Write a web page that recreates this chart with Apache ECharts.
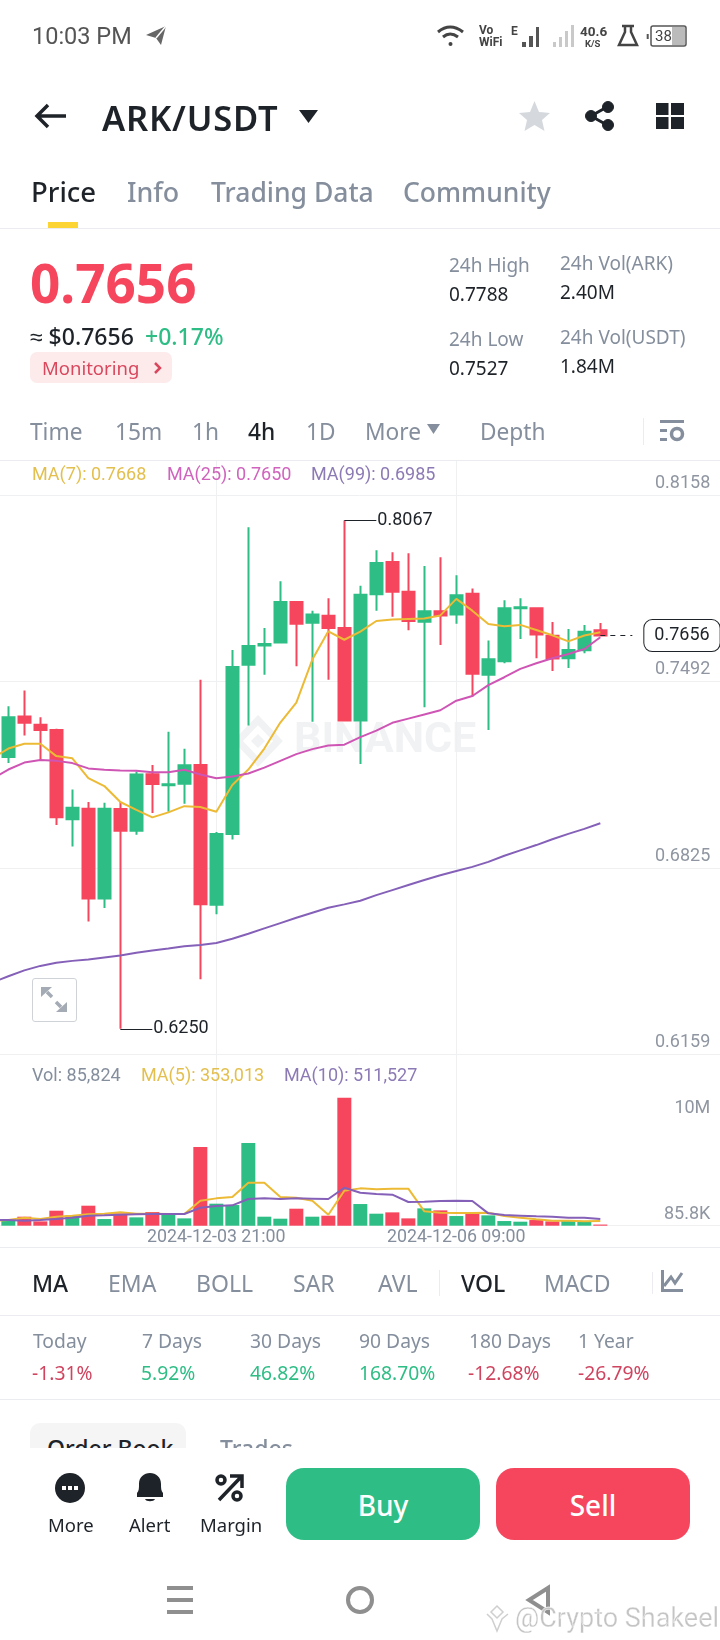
<!DOCTYPE html>
<html>
<head>
<meta charset="utf-8">
<title>ARK/USDT</title>
<script src="https://cdn.jsdelivr.net/npm/echarts@6/dist/echarts.min.js"></script>
<style>
    html, body { margin: 0; padding: 0; background: #fff; }
    #page { position: relative; width: 720px; height: 1640px; overflow: hidden; font-family: "Noto Sans", sans-serif; }
    #main { position: absolute; left: 0; top: 0; width: 720px; height: 1640px; }
    .t { position: absolute; white-space: nowrap; transform: translateY(-50%); line-height: 1; color: #848e9c; }
    .dark { color: #1e2329; }
    .r { color: #cf4560; }
    .g { color: #2ebd85; }
    .s { font-size: 19.3px; }
    .m { font-size: 22.7px; }
    .hr { position: absolute; left: 0; width: 720px; height: 1px; background: #eaecef; }
    .vr { position: absolute; width: 1px; background: #eaecef; }
    svg { position: absolute; overflow: visible; }
    .btn { position: absolute; top: 1468px; width: 194px; height: 72px; border-radius: 18px; color: #fff;
        font-size: 28px; font-weight: 500; text-align: center; line-height: 75px; }
</style>
</head>
<body>
<div id="page">
    <div id="main"></div>

    <!-- status bar -->
    <span class="t" style="left:32px;top:36px;font:23.5px Roboto;color:#555">10:03 PM</span>
    <svg style="left:146px;top:26px" width="21" height="20"><path d="M0 9 L20 0 L15 19 L10 12 Z" fill="#666"/><path d="M10 12 L20 0" stroke="#fff" stroke-width="1.5"/></svg>
    <svg style="left:437px;top:24px" width="28" height="24" fill="none" stroke="#444" stroke-width="3"><path d="M1 8 Q13 -2 26 8"/><path d="M6 13 Q13 7 21 13"/><circle cx="13.500" cy="20" r="2" fill="#444" stroke="none"/></svg>
    <span class="t" style="left:479px;top:30px;font:bold 12px Roboto;color:#444">Vo</span>
    <span class="t" style="left:479px;top:42px;font:bold 12px Roboto;color:#444">WiFi</span>
    <span class="t" style="left:511px;top:31px;font:bold 12px Roboto;color:#444">E</span>
    <svg style="left:522px;top:24px" width="52" height="23"><path d="M0 18h4v5h-4zM7 12h4v11h-4zM14 3h3v20h-3z" fill="#555"/><path d="M31 18h3v5h-3zM37 13h3v10h-3zM43 7h3v16h-3zM49 1h3v22h-3z" fill="#c9c9c9"/></svg>
    <span class="t" style="left:580px;top:31px;font:bold 13.500px Roboto;color:#444">40.6</span>
    <span class="t" style="left:585px;top:43px;font:bold 9.500px Roboto;color:#444">K/S</span>
    <svg style="left:618px;top:25px" width="20" height="22" fill="none" stroke="#444" stroke-width="2.500"><path d="M4 1h12M7 1v6L1 20h18L13 7V1"/></svg>
    <svg style="left:646px;top:25px" width="41" height="22"><rect x="0.700" y="9" width="2" height="5" fill="#555"/><rect x="5" y="1" width="35" height="20" rx="2" fill="#fff" stroke="#555" stroke-width="1.500"/><rect x="26" y="2" width="13" height="18" fill="#bbb"/></svg>
    <span class="t" style="left:655px;top:36px;font:15px Roboto;color:#444">38</span>

    <!-- header -->
    <svg style="left:35px;top:103px" width="31" height="26" fill="none" stroke="#1e2329" stroke-width="3.500"><path d="M31 13H3M13 2L2 13L13 24"/></svg>
    <span class="t dark" style="left:102px;top:118px;font-size:34.500px;font-weight:600;letter-spacing:0.800px">ARK/USDT</span>
    <svg style="left:299px;top:110px" width="19" height="13"><path d="M0 0H19L9.500 13Z" fill="#1e2329"/></svg>
    <svg style="left:519px;top:101px" width="31" height="30"><path d="M15.500 0L20 11L31 12L23 19L25.500 30L15.500 24L5.500 30L8 19L0 12L11 11Z" fill="#d5d9de"/></svg>
    <svg style="left:585px;top:101px" width="29" height="30" stroke="#1e2329" fill="#1e2329"><path d="M22 6L6 15L22 24" fill="none" stroke-width="3"/><circle cx="23" cy="6" r="5.500"/><circle cx="6" cy="15" r="5.500"/><circle cx="23" cy="24" r="5.500"/></svg>
    <svg style="left:656px;top:103px" width="28" height="26" fill="#1e2329"><rect width="12.500" height="12"/><rect x="15" width="13" height="12"/><rect y="14" width="12.500" height="12"/><rect x="15" y="14" width="13" height="12"/></svg>

    <!-- tabs -->
    <span class="t dark" style="left:31px;top:192px;font-size:27.500px;font-weight:500">Price</span>
    <span class="t" style="left:127px;top:192px;font-size:26.800px;font-weight:500">Info</span>
    <span class="t" style="left:211px;top:192px;font-size:26.500px;font-weight:500">Trading Data</span>
    <span class="t" style="left:403px;top:192px;font-size:26.500px;font-weight:500">Community</span>
    <div style="position:absolute;left:48px;top:222px;width:30px;height:6px;background:#fcd535"></div>
    <div class="hr" style="top:228px"></div>

    <!-- price block -->
    <span class="t" style="left:30px;top:282px;font-size:53px;font-weight:700;color:#f6465d">0.7656</span>
    <span class="t dark" style="left:30px;top:336px;font-size:23px;font-weight:500">≈ $0.7656</span>
    <span class="t g" style="left:145px;top:336px;font-size:23px;font-weight:500">+0.17%</span>
    <div style="position:absolute;left:30px;top:352px;width:142px;height:31px;border-radius:7px;background:#fdebec"></div>
    <span class="t" style="left:42px;top:368px;font-size:18.500px;color:#d9475d">Monitoring</span>
    <svg style="left:154px;top:362px" width="8" height="12" fill="none" stroke="#d9475d" stroke-width="2.500"><path d="M1 1L6 6L1 11"/></svg>
    <span class="t" style="left:449px;top:265px;font-size:19px">24h High</span>
    <span class="t dark" style="left:449px;top:294px;font-size:19px">0.7788</span>
    <span class="t" style="left:560px;top:263px;font-size:19px">24h Vol(ARK)</span>
    <span class="t dark" style="left:560px;top:292px;font-size:19px">2.40M</span>
    <span class="t" style="left:449px;top:339px;font-size:19px">24h Low</span>
    <span class="t dark" style="left:449px;top:368px;font-size:19px">0.7527</span>
    <span class="t" style="left:560px;top:337px;font-size:19px">24h Vol(USDT)</span>
    <span class="t dark" style="left:560px;top:366px;font-size:19px">1.84M</span>

    <!-- time frames -->
    <span class="t m" style="left:30px;top:432px">Time</span>
    <span class="t m" style="left:115px;top:432px">15m</span>
    <span class="t m" style="left:192px;top:432px">1h</span>
    <span class="t m dark" style="left:248px;top:432px;font-weight:500">4h</span>
    <span class="t m" style="left:306px;top:432px">1D</span>
    <span class="t m" style="left:365px;top:432px">More</span>
    <svg style="left:427px;top:424px" width="13" height="10"><path d="M0 0H13L6.500 10Z" fill="#848e9c"/></svg>
    <span class="t m" style="left:480px;top:432px">Depth</span>
    <div class="vr" style="left:643px;top:418px;height:27px"></div>
    <svg style="left:660px;top:420px" width="24" height="24" fill="#848e9c"><rect width="24" height="3"/><rect x="0" y="9" width="7" height="3"/><rect x="0" y="18" width="7" height="3"/><circle cx="17" cy="14" r="5.500" fill="none" stroke="#848e9c" stroke-width="3.500"/></svg>
    <div class="hr" style="top:460px"></div>

    <!-- expand button -->
    <div style="position:absolute;left:32px;top:978px;width:43px;height:42px;border:1px solid #cfd3d8;border-radius:3px;background:#fff"></div>
    <svg style="left:41px;top:987px" width="26" height="25" fill="none" stroke="#a4abb4" stroke-width="3.500"><path d="M6 5L11 10M15 15L20 20"/><path d="M0 0H11L0 10Z" fill="#a4abb4" stroke="none"/><path d="M26 25H15L26 15Z" fill="#a4abb4" stroke="none"/></svg>

    <!-- indicators -->
    <div class="hr" style="top:1247px"></div>
    <span class="t dark" style="left:32px;top:1283px;font-size:23px;font-weight:500">MA</span>
    <span class="t" style="left:108px;top:1283px;font-size:23px">EMA</span>
    <span class="t" style="left:196px;top:1283px;font-size:23px">BOLL</span>
    <span class="t" style="left:293px;top:1283px;font-size:23px">SAR</span>
    <span class="t" style="left:378px;top:1283px;font-size:23px">AVL</span>
    <div class="vr" style="left:439px;top:1270px;height:26px"></div>
    <span class="t dark" style="left:461px;top:1283px;font-size:23px;font-weight:500">VOL</span>
    <span class="t" style="left:544px;top:1283px;font-size:23px">MACD</span>
    <div class="vr" style="left:652px;top:1272px;height:22px"></div>
    <svg style="left:661px;top:1270px" width="22" height="22" fill="none" stroke="#848e9c" stroke-width="3"><path d="M1.500 0V20.500H22"/><path d="M3 16L10 7L14 13L21 3"/></svg>
    <div class="hr" style="top:1315px"></div>

    <!-- performance -->
    <span class="t s" style="left:33px;top:1341px">Today</span>
    <span class="t s" style="left:142px;top:1341px">7 Days</span>
    <span class="t s" style="left:250px;top:1341px">30 Days</span>
    <span class="t s" style="left:359px;top:1341px">90 Days</span>
    <span class="t s" style="left:469px;top:1341px">180 Days</span>
    <span class="t s" style="left:578px;top:1341px">1 Year</span>
    <span class="t s r" style="left:32px;top:1373px">-1.31%</span>
    <span class="t s g" style="left:141px;top:1373px">5.92%</span>
    <span class="t s g" style="left:250px;top:1373px">46.82%</span>
    <span class="t s g" style="left:359px;top:1373px">168.70%</span>
    <span class="t s r" style="left:468px;top:1373px">-12.68%</span>
    <span class="t s r" style="left:578px;top:1373px">-26.79%</span>
    <div class="hr" style="top:1399px"></div>

    <!-- order book tabs, cut off by the bottom bar -->
    <div style="position:absolute;left:30px;top:1423px;width:156px;height:50px;border-radius:10px;background:#f5f5f5"></div>
    <span class="t dark" style="left:47px;top:1448px;font-size:23px;font-weight:500">Order Book</span>
    <span class="t" style="left:220px;top:1448px;font-size:23px;font-weight:500">Trades</span>
    <div style="position:absolute;left:0;top:1448px;width:720px;height:192px;background:#fff"></div>

    <!-- bottom bar -->
    <svg style="left:55px;top:1473px" width="30" height="30"><circle cx="15" cy="15" r="15" fill="#1e2329"/><path d="M7 13h4v4h-4zM13 13h4v4h-4zM19 13h4v4h-4z" fill="#fff"/></svg>
    <svg style="left:136px;top:1473px" width="28" height="30" fill="#1e2329"><path d="M1 20C3 18 3 15 3 11C3 4 8 0 14 0C20 0 25 4 25 11C25 15 25 18 27 20V24H1Z"/><path d="M9 26H19C18 29 10 29 9 26Z"/></svg>
    <svg style="left:216px;top:1474px" width="28" height="28" fill="none" stroke="#1e2329" stroke-width="3.500"><path d="M3 26L25 3M14 2H26V14"/><circle cx="5" cy="6" r="4"/><circle cx="21" cy="22" r="4"/></svg>
    <span class="t dark" style="left:48px;top:1525px;font-size:18.500px">More</span>
    <span class="t dark" style="left:129px;top:1525px;font-size:18.500px">Alert</span>
    <span class="t dark" style="left:200px;top:1525px;font-size:18.500px">Margin</span>
    <div class="btn" style="left:286px;background:#2ebd85">Buy</div>
    <div class="btn" style="left:496px;background:#f6465d">Sell</div>

    <!-- nav bar -->
    <svg style="left:167px;top:1586px" width="26" height="28" fill="#8f8f8f"><rect width="26" height="4"/><rect y="12" width="26" height="4"/><rect y="24" width="26" height="4"/></svg>
    <svg style="left:346px;top:1586px" width="28" height="28" fill="none" stroke="#8f8f8f" stroke-width="4"><circle cx="14" cy="14" r="12"/></svg>
    <svg style="left:526px;top:1586px" width="24" height="28" fill="none" stroke="#8f8f8f" stroke-width="4"><path d="M22 2V26L3 14Z"/></svg>
    <svg style="left:484px;top:1604px" width="27" height="28" fill="none" stroke="#cfcfcf" stroke-width="1.500"><path d="M13 2L19 8L13 14L7 8ZM3 10L8 15L13 27L18 15L24 10"/></svg>
    <span class="t" style="left:515px;top:1618px;font:27px Roboto;color:#c4c4c4;-webkit-text-stroke:0.300px #fff;text-shadow:0 0 1px #fff">@Crypto Shakeel</span>
</div>
<script>
var timeLabels = [
    '2024-12-01 13:00', '2024-12-01 17:00', '2024-12-01 21:00',
    '2024-12-02 01:00', '2024-12-02 05:00', '2024-12-02 09:00', '2024-12-02 13:00', '2024-12-02 17:00', '2024-12-02 21:00',
    '2024-12-03 01:00', '2024-12-03 05:00', '2024-12-03 09:00', '2024-12-03 13:00', '2024-12-03 17:00', '2024-12-03 21:00',
    '2024-12-04 01:00', '2024-12-04 05:00', '2024-12-04 09:00', '2024-12-04 13:00', '2024-12-04 17:00', '2024-12-04 21:00',
    '2024-12-05 01:00', '2024-12-05 05:00', '2024-12-05 09:00', '2024-12-05 13:00', '2024-12-05 17:00', '2024-12-05 21:00',
    '2024-12-06 01:00', '2024-12-06 05:00', '2024-12-06 09:00', '2024-12-06 13:00', '2024-12-06 17:00', '2024-12-06 21:00',
    '2024-12-07 01:00', '2024-12-07 05:00', '2024-12-07 09:00', '2024-12-07 13:00', '2024-12-07 17:00', '2024-12-07 21:00',
    '2024-12-08 01:00', '2024-12-08 05:00', '2024-12-08 09:00', '2024-12-08 13:00', '2024-12-08 17:00', '2024-12-08 21:00',
    '2024-12-09 01:00'
];
var shownTimes = ['2024-12-03 21:00', '2024-12-06 09:00'];

// first candle sits just left of the screen, it only carries the lines to the edge
var opens = [0.7180, 0.7222, 0.7367, 0.7337, 0.7318, 0.6999, 0.7037, 0.6716, 0.7036, 0.6958, 0.7160, 0.7121, 0.7126, 0.7193, 0.6694, 0.6947, 0.7552, 0.7620, 0.7631, 0.7776, 0.7702, 0.7727, 0.7683, 0.7352, 0.7804, 0.7919, 0.7813, 0.7705, 0.7743, 0.7731, 0.7805, 0.7516, 0.7564, 0.7754, 0.7754, 0.7655, 0.7575, 0.7603, 0.7675];
var closes = [0.7222, 0.7364, 0.7344, 0.7318, 0.7006, 0.7040, 0.6716, 0.7037, 0.6958, 0.7159, 0.7125, 0.7124, 0.7192, 0.6695, 0.6947, 0.7544, 0.7619, 0.7626, 0.7776, 0.7698, 0.7731, 0.7683, 0.7352, 0.7802, 0.7915, 0.7813, 0.7708, 0.7743, 0.7728, 0.7800, 0.7519, 0.7571, 0.7754, 0.7757, 0.7660, 0.7574, 0.7604, 0.7670, 0.7656];
var lows = [0.7150, 0.7200, 0.7299, 0.7211, 0.6979, 0.6902, 0.6634, 0.6682, 0.6250, 0.6944, 0.7022, 0.7026, 0.7055, 0.6427, 0.6660, 0.6927, 0.7334, 0.7516, 0.7631, 0.7546, 0.7348, 0.7498, 0.7352, 0.7197, 0.7745, 0.7723, 0.7675, 0.7400, 0.7622, 0.7698, 0.7437, 0.7318, 0.7557, 0.7644, 0.7575, 0.7529, 0.7540, 0.7593, 0.7655];
var highs = [0.7240, 0.7403, 0.7460, 0.7364, 0.7323, 0.7106, 0.7061, 0.7058, 0.7061, 0.7170, 0.7193, 0.7312, 0.7251, 0.7498, 0.6954, 0.7604, 0.8043, 0.7683, 0.7850, 0.7776, 0.7745, 0.7789, 0.8067, 0.7834, 0.7961, 0.7954, 0.7950, 0.7905, 0.7936, 0.7872, 0.7824, 0.7638, 0.7782, 0.7789, 0.7757, 0.7704, 0.7679, 0.7694, 0.7701];
var ma7 = [0.7217, 0.7252, 0.7269, 0.7269, 0.7225, 0.7217, 0.7146, 0.7118, 0.7061, 0.7033, 0.7006, 0.7024, 0.7046, 0.7043, 0.7026, 0.7122, 0.7177, 0.7252, 0.7345, 0.7416, 0.7570, 0.7671, 0.7641, 0.7670, 0.7708, 0.7713, 0.7715, 0.7717, 0.7728, 0.7787, 0.7745, 0.7697, 0.7689, 0.7694, 0.7676, 0.7657, 0.7635, 0.7656, 0.7668];
var ma25 = [0.7144, 0.7177, 0.7202, 0.7211, 0.7208, 0.7200, 0.7181, 0.7176, 0.7174, 0.7173, 0.7167, 0.7167, 0.7176, 0.7159, 0.7146, 0.7152, 0.7163, 0.7184, 0.7208, 0.7232, 0.7250, 0.7263, 0.7266, 0.7293, 0.7316, 0.7344, 0.7359, 0.7374, 0.7389, 0.7423, 0.7440, 0.7479, 0.7507, 0.7537, 0.7557, 0.7575, 0.7590, 0.7608, 0.7650];
var ma99 = [0.6416, 0.6438, 0.6459, 0.6475, 0.6486, 0.6493, 0.6498, 0.6505, 0.6512, 0.6522, 0.6530, 0.6537, 0.6545, 0.6550, 0.6557, 0.6572, 0.6590, 0.6609, 0.6628, 0.6647, 0.6665, 0.6683, 0.6695, 0.6708, 0.6728, 0.6746, 0.6764, 0.6782, 0.6799, 0.6814, 0.6829, 0.6847, 0.6869, 0.6888, 0.6907, 0.6928, 0.6947, 0.6965, 0.6985];
var volumes = [450000, 500000, 675000, 325000, 1125000, 775000, 1500000, 500000, 925000, 625000, 1025000, 825000, 550000, 5900000, 1650000, 1550000, 6200000, 675000, 525000, 1275000, 675000, 750000, 9600000, 1625000, 900000, 1000000, 550000, 1300000, 1150000, 725000, 925000, 775000, 350000, 300000, 425000, 325000, 350000, 350000, 85824];
var volMa5 = [375000, 425000, 600000, 500000, 675000, 750000, 850000, 900000, 1000000, 900000, 900000, 875000, 875000, 1875000, 2050000, 2150000, 3225000, 3225000, 2150000, 2100000, 1875000, 825000, 2625000, 2800000, 2725000, 2775000, 2775000, 1075000, 975000, 950000, 950000, 975000, 725000, 600000, 475000, 375000, 375000, 325000, 353013];
var volMa10 = [425000, 425000, 375000, 425000, 500000, 600000, 750000, 775000, 825000, 850000, 875000, 875000, 875000, 1350000, 1475000, 1525000, 2000000, 2050000, 2000000, 2050000, 2025000, 2000000, 2850000, 2475000, 2375000, 2325000, 1775000, 1800000, 1850000, 1875000, 1850000, 925000, 800000, 750000, 700000, 675000, 600000, 600000, 511527];
var priceTicks = [0.8158, 0.7492, 0.6825, 0.6159];
var volTicks = [85824, 10000000];
var lastPrice = 0.7656, highPrice = 0.8067, lowPrice = 0.6250;

var chartDom = document.getElementById('main');
var myChart = echarts.init(chartDom);

var upColor = '#2ebd85', downColor = '#f6465d';
var maYellow = '#ecba35', maPink = '#cf55b5', maPurple = '#8560b8';
var gridColor = '#eef0f2';
var axisFont = 'Roboto';

var candles = [];
for (var i = 0; i < opens.length; i++) {
    candles.push([opens[i], closes[i], lows[i], highs[i]]);
}

// volume bars take the colour of their candle
var volBars = [];
for (var j = 0; j < volumes.length; j++) {
    volBars.push({
        value: volumes[j],
        itemStyle: { color: closes[j] > opens[j] ? upColor : downColor }
    });
}

function lineSeries(name, data, color, xi) {
    return {
        name: name,
        type: 'line',
        xAxisIndex: xi,
        yAxisIndex: xi,
        data: data,
        showSymbol: false,
        silent: true,
        z: 4,
        lineStyle: { color: color, width: 2 }
    };
}

// vertical time lines, kept behind the marks
function timeLines() {
    return {
        silent: true,
        symbol: 'none',
        z: 1,
        label: { show: false },
        lineStyle: { color: gridColor, width: 1, type: 'solid' },
        data: shownTimes.map(function (t) { return { xAxis: t }; })
    };
}

// leader line with its text at the end
function flag(fromIdx, toIdx, value) {
    return [
        { coord: [fromIdx, value] },
        {
            coord: [toIdx, value],
            label: { formatter: value.toFixed(4) }
        }
    ];
}

function legendText(x, y, text, color) {
    return {
        type: 'text',
        z: 10,
        style: { x: x, y: y, text: text, fill: color, font: '18px ' + axisFont, verticalAlign: 'middle' }
    };
}

var candleSeries = {
    name: 'ARK/USDT',
    type: 'candlestick',
    xAxisIndex: 0,
    yAxisIndex: 0,
    data: candles,
    barWidth: 12,
    z: 3,
    itemStyle: {
        color: upColor,
        color0: downColor,
        borderColor: upColor,
        borderColor0: downColor,
        borderWidth: 2
    },
    markLine: {
        silent: true,
        symbol: 'none',
        z: 6,
        lineStyle: { color: '#1e2329', width: 1, type: 'solid' },
        label: {
            position: 'end',
            distance: 1,
            color: '#1e2329',
            fontFamily: axisFont,
            fontSize: 18
        },
        data: [
            flag(22, 24, highPrice),
            flag(8, 10, lowPrice),
            [
                { coord: [38, lastPrice], lineStyle: { type: [5, 5], color: '#1e2329', width: 1 } },
                {
                    coord: [40, lastPrice],
                    lineStyle: { type: [5, 5], color: '#1e2329', width: 1 },
                    label: {
                        formatter: lastPrice.toFixed(4),
                        distance: 12,
                        backgroundColor: '#fff',
                        borderColor: '#1e2329',
                        borderWidth: 1,
                        borderRadius: 8,
                        padding: [7, 10, 6, 10],
                        fontSize: 18
                    }
                }
            ]
        ]
    }
};

var ma99Series = lineSeries('MA(99)', ma99, maPurple, 0);
ma99Series.markLine = timeLines();

var volSeries = {
    name: 'Vol',
    type: 'bar',
    xAxisIndex: 1,
    yAxisIndex: 1,
    data: volBars,
    barWidth: 14,
    z: 3,
    markLine: timeLines()
};

var option = {
    animation: false,
    backgroundColor: '#fff',
    textStyle: { fontFamily: axisFont },
    grid: [
        { left: -15.67, top: 461, width: 736, height: 593.3, outerBoundsMode: 'none' },
        { left: -15.67, top: 1054.7, width: 736, height: 171, outerBoundsMode: 'none' }
    ],
    xAxis: [
        {
            type: 'category',
            gridIndex: 0,
            data: timeLabels,
            axisLine: { show: false },
            axisTick: { show: false },
            axisLabel: { show: false },
            splitLine: { show: false }
        },
        {
            type: 'category',
            gridIndex: 1,
            data: timeLabels,
            axisLine: { show: true, lineStyle: { color: gridColor } },
            axisTick: { show: false },
            axisLabel: {
                color: '#848e9c',
                fontSize: 17.8,
                margin: 3,
                fontFamily: axisFont,
                interval: function (index, value) {
                    return shownTimes.indexOf(value) >= 0;
                }
            },
            splitLine: { show: false }
        }
    ],
    yAxis: [
        {
            type: 'value',
            gridIndex: 0,
            position: 'right',
            min: 0.6159,
            max: 0.8280,
            axisLine: { show: false },
            axisTick: { show: false, customValues: priceTicks },
            axisLabel: {
                inside: true,
                margin: 10,
                color: '#8f96a1',
                fontSize: 18,
                fontFamily: axisFont,
                verticalAlign: 'bottom',
                lineHeight: 24,
                customValues: priceTicks,
                formatter: function (v) { return v.toFixed(4); }
            },
            splitLine: { show: true, lineStyle: { color: gridColor, width: 1 } }
        },
        {
            type: 'value',
            gridIndex: 1,
            position: 'right',
            min: 0,
            max: 12825000,
            axisLine: { show: false },
            axisTick: { show: false },
            splitLine: { show: false },
            axisLabel: {
                inside: true,
                margin: 10,
                color: '#8f96a1',
                fontSize: 18,
                fontFamily: axisFont,
                verticalAlign: 'middle',
                customValues: volTicks,
                formatter: function (v) {
                    return v >= 1000000 ? '{top|' + (v / 1000000) + 'M}' : '{bottom|' + (v / 1000).toFixed(1) + 'K}';
                },
                rich: {
                    top: { padding: [32, 0, 0, 0], fontSize: 18, color: '#8f96a1' },
                    bottom: { padding: [0, 0, 20, 0], fontSize: 18, color: '#8f96a1' }
                }
            }
        }
    ],
    graphic: [
        legendText(32, 475, 'MA(7): 0.7668', '#e3bf4f'),
        legendText(167, 475, 'MA(25): 0.7650', '#cf63bd'),
        legendText(311, 475, 'MA(99): 0.6985', '#8c7ab5'),
        legendText(32, 1076, 'Vol: 85,824', '#848e9c'),
        legendText(141, 1076, 'MA(5): 353,013', '#e3bf4f'),
        legendText(284, 1076, 'MA(10): 511,527', '#8c7ab5'),
        // watermark
        {
            type: 'text',
            z: 0,
            style: { x: 294, y: 741, text: 'BINANCE', fill: '#f1f2f3', font: 'bold 43px ' + axisFont, verticalAlign: 'middle' }
        },
        {
            type: 'polygon',
            z: 0,
            shape: { points: [[258, 720], [278, 741], [258, 762], [238, 741]] },
            style: { fill: 'none', stroke: '#f1f2f3', lineWidth: 7 }
        },
        {
            type: 'polygon',
            z: 0,
            shape: { points: [[258, 734], [265, 741], [258, 748], [251, 741]] },
            style: { fill: '#f1f2f3' }
        }
    ],
    series: [
        candleSeries,
        lineSeries('MA(7)', ma7, maYellow, 0),
        lineSeries('MA(25)', ma25, maPink, 0),
        ma99Series,
        volSeries,
        lineSeries('MA(5)', volMa5, maYellow, 1),
        lineSeries('MA(10)', volMa10, maPurple, 1)
    ]
};

myChart.setOption(option);
</script>
</body>
</html>
